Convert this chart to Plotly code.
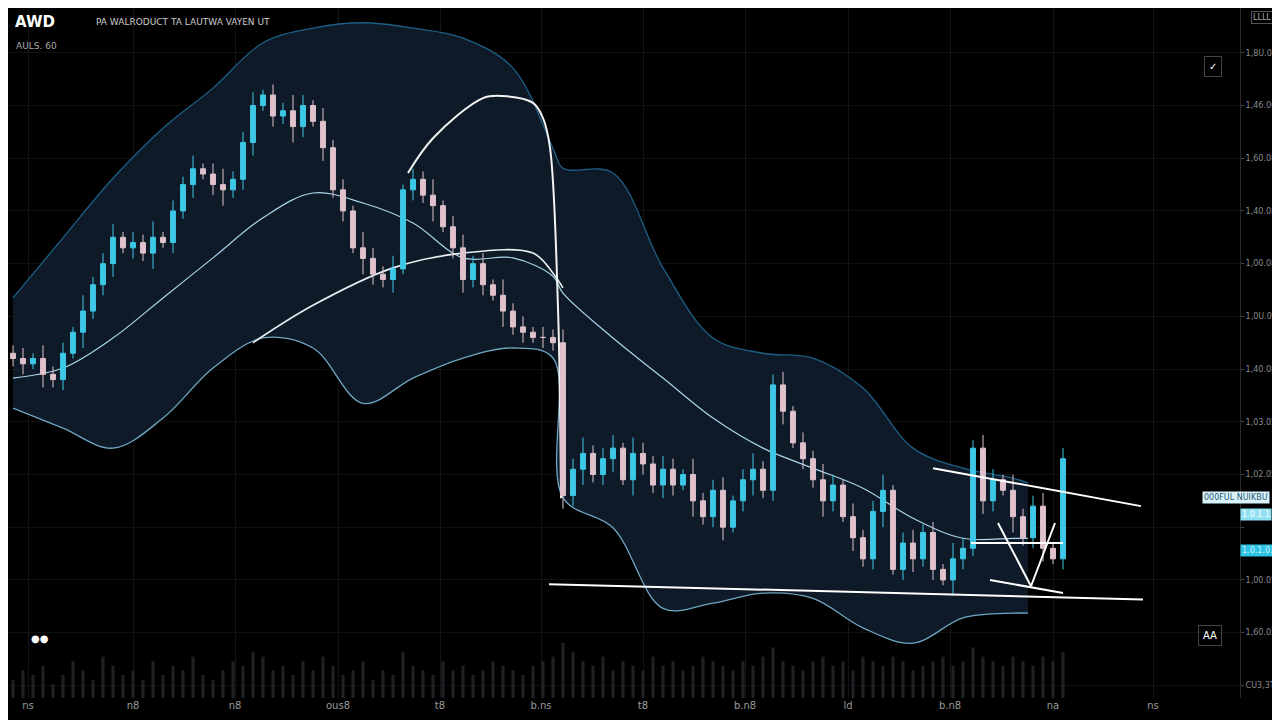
import plotly.graph_objects as go

# candles, one per index step
closes = [122, 121, 122, 119, 118, 123, 127, 131, 136, 140, 145, 143, 144, 142, 145, 144,
          150, 155, 158, 157, 155, 154, 156, 163, 170, 172, 168, 169, 166, 170, 167, 162,
          154, 150, 143, 141, 138, 137, 139, 154, 156, 153, 151, 147, 143, 137, 140, 136,
          134, 131, 128, 127, 126, 126, 125, 96, 101, 104, 100, 103, 105, 99, 104, 102,
          98, 101, 98, 100, 95, 92, 97, 90, 95, 99, 101, 97, 117, 112, 106, 103, 99, 95,
          98, 92, 88, 84, 93, 97, 82, 87, 84, 89, 82, 80, 84, 86, 105, 95, 99, 97, 92, 88,
          94, 86, 84, 103]
opens = [123] + closes[:-1]
wicks = [1.5, 2, 1, 2.5, 1.5, 2, 1, 3, 1.5, 2, 2.5, 1, 2, 1.5, 3, 1,
         2, 1.5, 2.5, 1, 2, 3, 1.5, 2, 2.5, 1, 2, 1.5, 3, 2, 1, 2.5,
         1.5, 2, 1, 3, 2, 1.5, 2.5, 1, 2, 1.5, 3, 1, 2, 2.5, 1.5, 2,
         1, 3, 1.5, 2, 1, 2, 1.5, 2.5, 2, 3, 1.5, 2, 2.5, 1, 3, 2,
         1.5, 2.5, 2, 1, 3, 1.5, 2, 2.5, 1, 2, 3, 1.5, 2, 2.5, 1, 2,
         1.5, 3, 2, 1, 2.5, 1.5, 2, 3, 1, 2, 2.5, 1.5, 2, 1, 3, 2,
         1.5, 2.5, 2, 1, 3, 1.5, 2, 2.5, 1, 2]
volumes = [4, 6, 5, 7, 3, 5, 8, 6, 4, 9, 7, 5, 6, 4, 8, 5, 7, 6, 9, 5, 4, 6, 8, 7,
           10, 9, 6, 7, 5, 8, 6, 9, 7, 5, 6, 8, 4, 6, 5, 10, 7, 6, 5, 8, 6, 7, 5, 6,
           8, 7, 6, 5, 7, 8, 9, 12, 10, 8, 7, 9, 6, 8, 7, 6, 9, 7, 8, 6, 7, 9, 8, 7,
           6, 8, 7, 9, 11, 8, 7, 6, 8, 9, 7, 8, 6, 9, 8, 7, 9, 8, 6, 7, 8, 9, 7, 8,
           11, 9, 8, 7, 9, 8, 7, 9, 8, 10]

# bollinger-like bands
band_idx = [0, 5, 10, 15, 20, 25, 30, 35, 40, 45, 50, 54, 55, 60, 65, 70, 75, 80, 85, 90, 95, 100, 101.5]
upper = [133.5, 144.9, 156.2, 165.7, 173.3, 181.9, 184.7, 185.7, 184.7, 182.8, 177.1, 161.9, 158.1,
         157.2, 139.2, 125.9, 123, 122.1, 116.4, 105, 101.2, 99.3, 98.4]
middle = [118.3, 120.2, 125.9, 133.5, 141.1, 148.7, 153.4, 151.5, 147.7, 141.1, 141.1, 137.6, 134.4,
          125.9, 118.3, 110.7, 105, 101.2, 97.4, 91.7, 87.9, 87.9, 87.9]
lower = [112.6, 108.8, 105, 110.7, 120.2, 125.9, 124, 113.5, 118.3, 122.1, 124, 122.1, 95.6,
         89.9, 74.6, 75.6, 77.5, 76.5, 70.9, 68, 72.8, 73.7, 73.7]

ma_idx = [24, 30, 38, 45, 52, 54, 55]
ma_vals = [125, 132.1, 139.2, 142, 142, 138.2, 135.4]
hi_idx = [39.5, 42, 47, 49, 52, 53, 53.7, 54.5, 54.8]
hi_vals = [157.2, 163.8, 171.4, 171.8, 170.5, 167.6, 162, 131.6, 95.5]

trend_lines = [
    ([92, 112.8], [101.2, 94]),
    ([53.6, 113], [79.2, 76.3]),
    ([97.7, 105], [80, 77.5]),
    ([98.5, 101.8, 104.2], [90.8, 78.8, 90.8]),
    ([95.8, 105], [87, 87]),
]

price_ticks = [180, 170, 160, 150, 140, 130, 120, 110, 100, 90, 80, 70, 60]
price_labels = ["1,8U.08", "1,46.06", "1,60.08", "1,40.08", "1,00.08", "1,0U.08", "1,40.08",
                "1,03.05", "1,02.05", "", "1,00.05", "1,60.05", "CU3,3T"]
x_ticks = [1.5, 12, 22.2, 32.5, 42.7, 52.8, 63, 73.2, 83.5, 93.7, 104, 114]
x_labels = ["ns", "n8", "n8", "ous8", "t8", "b.ns", "t8", "b.n8", "ld", "b.n8", "na", "ns"]

x = list(range(len(closes)))
highs = [max(o, c) + w for o, c, w in zip(opens, closes, wicks)]
lows = [min(o, c) - w for o, c, w in zip(opens, closes, wicks)]
yr = [57.6, 188.5]

fig = go.Figure()
fig.add_trace(go.Bar(x=x, y=volumes, yaxis="y2", marker=dict(color="#1e2226", line=dict(width=0)), width=0.3))
fig.add_trace(go.Scatter(x=band_idx, y=upper, mode="lines", line=dict(color="#1d5f85", width=1.3, shape="spline")))
fig.add_trace(go.Scatter(x=band_idx, y=lower, mode="lines", fill="tonexty", fillcolor="rgba(16,30,46,0.85)",
                         line=dict(color="#6fa6c4", width=1.3, shape="spline")))
fig.add_trace(go.Scatter(x=band_idx, y=middle, mode="lines", line=dict(color="#a9d4ea", width=1.2, shape="spline")))
fig.add_trace(go.Scatter(x=ma_idx, y=ma_vals, mode="lines", line=dict(color="#e8eef2", width=1.6, shape="spline")))
fig.add_trace(go.Scatter(x=hi_idx, y=hi_vals, mode="lines", line=dict(color="#f2f2f2", width=2, shape="spline")))
fig.add_trace(go.Candlestick(x=x, open=opens, high=highs, low=lows, close=closes, whiskerwidth=0, yaxis="y3",
                             increasing=dict(line=dict(color="#3cc8e6", width=1), fillcolor="#3cc8e6"),
                             decreasing=dict(line=dict(color="#e0c2cc", width=1), fillcolor="#e0c2cc")))
for tx, ty in trend_lines:
    fig.add_trace(go.Scatter(x=tx, y=ty, mode="lines", yaxis="y3", line=dict(color="white", width=2)))

fig.update_layout(
    width=1280, height=720, showlegend=False,
    paper_bgcolor="black", plot_bgcolor="black",
    margin=dict(l=0, r=48, t=0, b=30),
    font=dict(family="DejaVu Sans", color="#8a8a8a", size=8),
    xaxis=dict(range=[-0.5, 122.7], rangeslider=dict(visible=False), showgrid=True, gridcolor="#121416",
               tickvals=x_ticks, ticktext=x_labels, zeroline=False, tickfont=dict(size=10, color="#9a9a9a")),
    yaxis=dict(range=yr, side="right", tickvals=price_ticks, ticktext=price_labels,
               showgrid=True, gridcolor="#0e1012", zeroline=False, showline=True, linecolor="#2a2a2a",
               ticks="outside", ticklen=3, tickcolor="#444"),
    yaxis2=dict(range=[0, 150], overlaying="y", visible=False),
    yaxis3=dict(range=yr, overlaying="y", visible=False),
    bargap=0.5,
)

fig.add_annotation(xref="paper", yref="paper", x=0.004, y=0.995, xanchor="left", yanchor="top", showarrow=False,
                   text="<b>AWD</b>", font=dict(size=15, color="white", family="DejaVu Sans"))
fig.add_annotation(xref="paper", yref="paper", x=0.07, y=0.99, xanchor="left", yanchor="top", showarrow=False,
                   text="PA WALRODUCT TA LAUTWA VAYEN UT", font=dict(size=9, color="#cccccc"))
fig.add_annotation(xref="paper", yref="paper", x=0.005, y=0.955, xanchor="left", yanchor="top", showarrow=False,
                   text="AULS. 60", font=dict(size=9, color="#aaaaaa"))
fig.add_annotation(xref="paper", yref="paper", x=1.018, y=0.995, xanchor="center", yanchor="top", showarrow=False,
                   text="LLLL", bordercolor="#555", borderwidth=1, font=dict(size=8, color="#aaaaaa"))
fig.add_annotation(xref="paper", yref="paper", x=0.985, y=0.93, showarrow=False, text="✓",
                   bordercolor="#444", borderwidth=1, borderpad=4, font=dict(size=10, color="white"))
fig.add_annotation(xref="paper", yref="paper", x=0.985, y=0.075, showarrow=False, text="AA",
                   bordercolor="#444", borderwidth=1, borderpad=4, font=dict(size=10, color="white"))
fig.add_annotation(xref="paper", yref="paper", x=0.017, y=0.075, showarrow=False, text="●●",
                   font=dict(size=10, color="white"))
fig.add_annotation(xref="paper", yref="y", x=1.0, y=95.6, xanchor="left", showarrow=False, text="000FUL NUIKBU",
                   bgcolor="#d8f2fa", font=dict(size=8, color="#2a5a70"), xshift=-38)
fig.add_annotation(xref="paper", yref="y", x=1.0, y=92.5, xanchor="left", showarrow=False, text="1.0.1.1",
                   bgcolor="#8fe0f2", font=dict(size=8, color="white"))
fig.add_annotation(xref="paper", yref="y", x=1.0, y=85.6, xanchor="left", showarrow=False, text="1.0.1.0.6",
                   bgcolor="#2ec4e4", font=dict(size=8, color="#cfefff"))

fig.write_html("out.html")
